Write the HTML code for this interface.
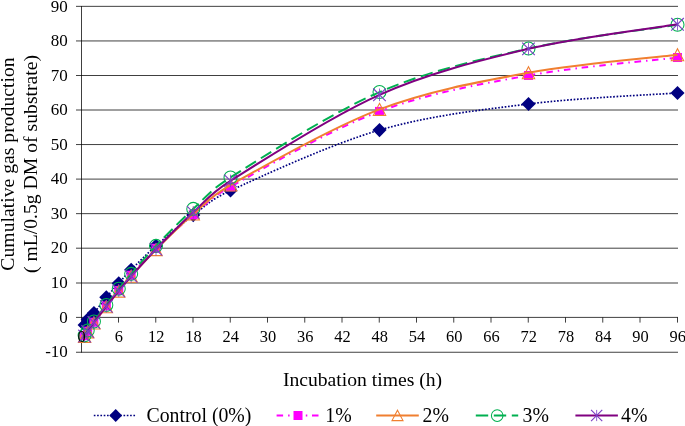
<!DOCTYPE html><html><head><meta charset="utf-8"><style>html,body{margin:0;padding:0;background:#fff;overflow:hidden}svg{display:block}</style></head><body><svg width="685" height="426" viewBox="0 0 685 426">
<rect width="685" height="426" fill="#fff"/>
<path d="M76 6.35H678 M76 40.95H678 M76 75.50H678 M76 110.00H678 M76 144.55H678 M76 179.10H678 M76 213.65H678 M76 248.20H678 M76 283.00H678 M76 317.40H678 M76 352.25H678" stroke="#000" stroke-width="0.75" fill="none"/>
<path d="M81.5 6.1V352.6" stroke="#000" stroke-width="0.75" fill="none"/>
<path d="M118.50 317.4V322.6 M155.75 317.4V322.6 M193.00 317.4V322.6 M230.25 317.4V322.6 M267.50 317.4V322.6 M304.75 317.4V322.6 M342.00 317.4V322.6 M379.25 317.4V322.6 M416.50 317.4V322.6 M453.75 317.4V322.6 M491.00 317.4V322.6 M528.25 317.4V322.6 M565.50 317.4V322.6 M602.75 317.4V322.6 M640.00 317.4V322.6 M677.50 317.4V322.6" stroke="#000" stroke-width="0.75" fill="none"/>
<path d="M84.60 325.00 C85.12 324.08 86.16 321.47 87.71 319.47 C89.26 317.47 91.03 316.44 93.92 313.01 C97.02 309.32 102.19 302.33 106.33 297.36 C110.47 292.38 114.61 287.79 118.75 283.19 C122.89 278.58 124.96 275.93 131.17 269.71 C137.38 263.49 145.65 254.96 156.00 245.86 C166.35 236.76 180.83 224.32 193.25 215.10 C205.67 205.89 210.21 199.83 230.50 190.56 C261.54 176.40 329.83 144.51 379.50 130.08 C429.17 115.66 478.83 110.18 528.50 103.99 C578.17 97.80 652.67 94.78 677.50 92.93" fill="none" stroke="#000080" stroke-width="1.7" stroke-dasharray="1.65 1.65"/>
<path d="M84.60 317.95L91.65 325.00L84.60 332.05L77.55 325.00Z" fill="#000080"/>
<path d="M87.71 312.42L94.76 319.47L87.71 326.52L80.66 319.47Z" fill="#000080"/>
<path d="M93.92 305.96L100.97 313.01L93.92 320.06L86.87 313.01Z" fill="#000080"/>
<path d="M106.33 290.31L113.38 297.36L106.33 304.41L99.28 297.36Z" fill="#000080"/>
<path d="M118.75 276.14L125.80 283.19L118.75 290.24L111.70 283.19Z" fill="#000080"/>
<path d="M131.17 262.66L138.22 269.71L131.17 276.76L124.12 269.71Z" fill="#000080"/>
<path d="M156.00 238.81L163.05 245.86L156.00 252.91L148.95 245.86Z" fill="#000080"/>
<path d="M193.25 208.05L200.30 215.10L193.25 222.15L186.20 215.10Z" fill="#000080"/>
<path d="M230.50 183.51L237.55 190.56L230.50 197.61L223.45 190.56Z" fill="#000080"/>
<path d="M379.50 123.03L386.55 130.08L379.50 137.13L372.45 130.08Z" fill="#000080"/>
<path d="M528.50 96.94L535.55 103.99L528.50 111.04L521.45 103.99Z" fill="#000080"/>
<path d="M677.50 85.88L684.55 92.93L677.50 99.98L670.45 92.93Z" fill="#000080"/>
<path d="M84.60 335.72 C85.12 334.97 86.16 333.47 87.71 331.22 C89.26 328.98 90.81 326.44 93.92 322.24 C97.02 318.03 102.19 311.29 106.33 306.00 C110.47 300.70 114.61 295.57 118.75 290.44 C122.89 285.32 124.96 282.26 131.17 275.24 C137.38 268.21 145.65 258.36 156.00 248.28 C166.35 238.20 180.83 225.01 193.25 214.76 C205.67 204.50 210.13 198.07 230.50 186.76 C261.54 169.54 329.83 129.97 379.50 111.42 C429.17 92.88 478.83 84.47 528.50 75.48 C578.17 66.49 652.67 60.50 677.50 57.51" fill="none" stroke="#FF00FF" stroke-width="2" stroke-dasharray="6.5 5 1.5 4.7"/>
<rect x="80.10" y="331.22" width="9.00" height="9.00" fill="#FF00FF"/>
<rect x="83.21" y="326.72" width="9.00" height="9.00" fill="#FF00FF"/>
<rect x="89.42" y="317.74" width="9.00" height="9.00" fill="#FF00FF"/>
<rect x="101.83" y="301.50" width="9.00" height="9.00" fill="#FF00FF"/>
<rect x="114.25" y="285.94" width="9.00" height="9.00" fill="#FF00FF"/>
<rect x="126.67" y="270.74" width="9.00" height="9.00" fill="#FF00FF"/>
<rect x="151.50" y="243.78" width="9.00" height="9.00" fill="#FF00FF"/>
<rect x="188.75" y="210.26" width="9.00" height="9.00" fill="#FF00FF"/>
<rect x="226.00" y="182.26" width="9.00" height="9.00" fill="#FF00FF"/>
<rect x="375.00" y="106.92" width="9.00" height="9.00" fill="#FF00FF"/>
<rect x="524.00" y="70.98" width="9.00" height="9.00" fill="#FF00FF"/>
<rect x="673.00" y="53.01" width="9.00" height="9.00" fill="#FF00FF"/>
<path d="M84.60 336.41 C85.12 335.66 86.16 334.16 87.71 331.92 C89.26 329.67 90.81 327.13 93.92 322.93 C97.02 318.72 102.19 311.99 106.33 306.69 C110.47 301.39 114.61 296.20 118.75 291.13 C122.89 286.07 124.96 283.19 131.17 276.27 C137.38 269.36 145.65 260.03 156.00 249.66 C166.35 239.29 180.83 224.84 193.25 214.07 C205.67 203.29 209.92 196.61 230.50 185.04 C261.54 167.58 329.83 128.07 379.50 109.35 C429.17 90.63 478.83 81.82 528.50 72.72 C578.17 63.61 652.67 57.74 677.50 54.74" fill="none" stroke="#F07F30" stroke-width="2" />
<path d="M84.60 330.41L90.80 342.41L78.40 342.41Z" fill="none" stroke="#F07F30" stroke-width="1.1"/>
<path d="M87.71 325.92L93.91 337.92L81.51 337.92Z" fill="none" stroke="#F07F30" stroke-width="1.1"/>
<path d="M93.92 316.93L100.12 328.93L87.72 328.93Z" fill="none" stroke="#F07F30" stroke-width="1.1"/>
<path d="M106.33 300.69L112.53 312.69L100.13 312.69Z" fill="none" stroke="#F07F30" stroke-width="1.1"/>
<path d="M118.75 285.13L124.95 297.13L112.55 297.13Z" fill="none" stroke="#F07F30" stroke-width="1.1"/>
<path d="M131.17 270.27L137.37 282.27L124.97 282.27Z" fill="none" stroke="#F07F30" stroke-width="1.1"/>
<path d="M156.00 243.66L162.20 255.66L149.80 255.66Z" fill="none" stroke="#F07F30" stroke-width="1.1"/>
<path d="M193.25 208.07L199.45 220.07L187.05 220.07Z" fill="none" stroke="#F07F30" stroke-width="1.1"/>
<path d="M230.50 179.04L236.70 191.04L224.30 191.04Z" fill="none" stroke="#F07F30" stroke-width="1.1"/>
<path d="M379.50 103.35L385.70 115.35L373.30 115.35Z" fill="none" stroke="#F07F30" stroke-width="1.1"/>
<path d="M528.50 66.72L534.70 78.72L522.30 78.72Z" fill="none" stroke="#F07F30" stroke-width="1.1"/>
<path d="M677.50 48.74L683.70 60.74L671.30 60.74Z" fill="none" stroke="#F07F30" stroke-width="1.1"/>
<path d="M84.60 335.37 C85.12 334.56 86.16 332.84 87.71 330.53 C89.26 328.23 90.81 325.81 93.92 321.55 C97.02 317.28 102.19 310.43 106.33 304.96 C110.47 299.49 114.61 293.90 118.75 288.72 C122.89 283.53 124.96 281.00 131.17 273.85 C137.38 266.71 145.65 256.69 156.00 245.86 C166.35 235.03 180.83 220.29 193.25 208.88 C205.67 197.48 209.85 190.38 230.50 177.43 C261.54 157.96 329.83 113.55 379.50 92.07 C429.17 70.58 478.83 59.76 528.50 48.52 C578.17 37.29 652.67 28.65 677.50 24.68" fill="none" stroke="#00B050" stroke-width="2" stroke-dasharray="12.4 5.6"/>
<circle cx="84.60" cy="335.37" r="6.50" fill="none" stroke="#00B050" stroke-width="1.05"/>
<circle cx="87.71" cy="330.53" r="6.50" fill="none" stroke="#00B050" stroke-width="1.05"/>
<circle cx="93.92" cy="321.55" r="6.50" fill="none" stroke="#00B050" stroke-width="1.05"/>
<circle cx="106.33" cy="304.96" r="6.50" fill="none" stroke="#00B050" stroke-width="1.05"/>
<circle cx="118.75" cy="288.72" r="6.50" fill="none" stroke="#00B050" stroke-width="1.05"/>
<circle cx="131.17" cy="273.85" r="6.50" fill="none" stroke="#00B050" stroke-width="1.05"/>
<circle cx="156.00" cy="245.86" r="6.50" fill="none" stroke="#00B050" stroke-width="1.05"/>
<circle cx="193.25" cy="208.88" r="6.50" fill="none" stroke="#00B050" stroke-width="1.05"/>
<circle cx="230.50" cy="177.43" r="6.50" fill="none" stroke="#00B050" stroke-width="1.05"/>
<circle cx="379.50" cy="92.07" r="6.50" fill="none" stroke="#00B050" stroke-width="1.05"/>
<circle cx="528.50" cy="48.52" r="6.50" fill="none" stroke="#00B050" stroke-width="1.05"/>
<circle cx="677.50" cy="24.68" r="6.50" fill="none" stroke="#00B050" stroke-width="1.05"/>
<path d="M84.60 336.06 C85.12 335.31 86.16 333.82 87.71 331.57 C89.26 329.32 90.81 326.79 93.92 322.58 C97.02 318.38 102.19 311.64 106.33 306.34 C110.47 301.04 114.61 295.80 118.75 290.79 C122.89 285.78 124.96 283.19 131.17 276.27 C137.38 269.36 145.65 259.97 156.00 249.32 C166.35 238.66 180.83 223.74 193.25 212.34 C205.67 200.93 209.88 193.89 230.50 180.89 C261.54 161.30 329.83 116.84 379.50 94.83 C429.17 72.83 478.83 60.62 528.50 48.87 C578.17 37.12 652.67 28.42 677.50 24.33" fill="none" stroke="#800080" stroke-width="2.05" />
<path d="M78.30 329.76L90.90 342.36M78.30 342.36L90.90 329.76" stroke="#7C40C4" stroke-width="1.15" fill="none"/><path d="M84.60 329.76L84.60 342.36" stroke="#7C40C4" stroke-width="0.9" fill="none" opacity="0.9"/>
<path d="M81.41 325.27L94.01 337.87M81.41 337.87L94.01 325.27" stroke="#7C40C4" stroke-width="1.15" fill="none"/><path d="M87.71 325.27L87.71 337.87" stroke="#7C40C4" stroke-width="0.9" fill="none" opacity="0.9"/>
<path d="M87.62 316.28L100.22 328.88M87.62 328.88L100.22 316.28" stroke="#7C40C4" stroke-width="1.15" fill="none"/><path d="M93.92 316.28L93.92 328.88" stroke="#7C40C4" stroke-width="0.9" fill="none" opacity="0.9"/>
<path d="M100.03 300.04L112.63 312.64M100.03 312.64L112.63 300.04" stroke="#7C40C4" stroke-width="1.15" fill="none"/><path d="M106.33 300.04L106.33 312.64" stroke="#7C40C4" stroke-width="0.9" fill="none" opacity="0.9"/>
<path d="M112.45 284.49L125.05 297.09M112.45 297.09L125.05 284.49" stroke="#7C40C4" stroke-width="1.15" fill="none"/><path d="M118.75 284.49L118.75 297.09" stroke="#7C40C4" stroke-width="0.9" fill="none" opacity="0.9"/>
<path d="M124.87 269.97L137.47 282.57M124.87 282.57L137.47 269.97" stroke="#7C40C4" stroke-width="1.15" fill="none"/><path d="M131.17 269.97L131.17 282.57" stroke="#7C40C4" stroke-width="0.9" fill="none" opacity="0.9"/>
<path d="M149.70 243.02L162.30 255.62M149.70 255.62L162.30 243.02" stroke="#7C40C4" stroke-width="1.15" fill="none"/><path d="M156.00 243.02L156.00 255.62" stroke="#7C40C4" stroke-width="0.9" fill="none" opacity="0.9"/>
<path d="M186.95 206.04L199.55 218.64M186.95 218.64L199.55 206.04" stroke="#7C40C4" stroke-width="1.15" fill="none"/><path d="M193.25 206.04L193.25 218.64" stroke="#7C40C4" stroke-width="0.9" fill="none" opacity="0.9"/>
<path d="M224.20 174.59L236.80 187.19M224.20 187.19L236.80 174.59" stroke="#7C40C4" stroke-width="1.15" fill="none"/><path d="M230.50 174.59L230.50 187.19" stroke="#7C40C4" stroke-width="0.9" fill="none" opacity="0.9"/>
<path d="M373.20 88.53L385.80 101.13M373.20 101.13L385.80 88.53" stroke="#7C40C4" stroke-width="1.15" fill="none"/><path d="M379.50 88.53L379.50 101.13" stroke="#7C40C4" stroke-width="0.9" fill="none" opacity="0.9"/>
<path d="M522.20 42.57L534.80 55.17M522.20 55.17L534.80 42.57" stroke="#7C40C4" stroke-width="1.15" fill="none"/><path d="M528.50 42.57L528.50 55.17" stroke="#7C40C4" stroke-width="0.9" fill="none" opacity="0.9"/>
<path d="M671.20 18.03L683.80 30.63M671.20 30.63L683.80 18.03" stroke="#7C40C4" stroke-width="1.15" fill="none"/><path d="M677.50 18.03L677.50 30.63" stroke="#7C40C4" stroke-width="0.9" fill="none" opacity="0.9"/>
<g font-family="Liberation Serif, Times New Roman, serif" font-size="17" fill="#000"><text transform="translate(67.8 11.50) scale(1 1.045)" text-anchor="end">90</text><text transform="translate(67.8 46.10) scale(1 1.045)" text-anchor="end">80</text><text transform="translate(67.8 80.65) scale(1 1.045)" text-anchor="end">70</text><text transform="translate(67.8 115.15) scale(1 1.045)" text-anchor="end">60</text><text transform="translate(67.8 149.70) scale(1 1.045)" text-anchor="end">50</text><text transform="translate(67.8 184.25) scale(1 1.045)" text-anchor="end">40</text><text transform="translate(67.8 218.80) scale(1 1.045)" text-anchor="end">30</text><text transform="translate(67.8 253.35) scale(1 1.045)" text-anchor="end">20</text><text transform="translate(67.8 288.15) scale(1 1.045)" text-anchor="end">10</text><text transform="translate(67.8 322.55) scale(1 1.045)" text-anchor="end">0</text><text transform="translate(67.8 357.40) scale(1 1.045)" text-anchor="end">-10</text><text x="81.70" y="342.1" font-size="16.4" text-anchor="middle">0</text><text x="118.95" y="342.1" font-size="16.4" text-anchor="middle">6</text><text x="156.20" y="342.1" font-size="16.4" text-anchor="middle">12</text><text x="193.45" y="342.1" font-size="16.4" text-anchor="middle">18</text><text x="230.70" y="342.1" font-size="16.4" text-anchor="middle">24</text><text x="267.95" y="342.1" font-size="16.4" text-anchor="middle">30</text><text x="305.20" y="342.1" font-size="16.4" text-anchor="middle">36</text><text x="342.45" y="342.1" font-size="16.4" text-anchor="middle">42</text><text x="379.70" y="342.1" font-size="16.4" text-anchor="middle">48</text><text x="416.95" y="342.1" font-size="16.4" text-anchor="middle">54</text><text x="454.20" y="342.1" font-size="16.4" text-anchor="middle">60</text><text x="491.45" y="342.1" font-size="16.4" text-anchor="middle">66</text><text x="528.70" y="342.1" font-size="16.4" text-anchor="middle">72</text><text x="565.95" y="342.1" font-size="16.4" text-anchor="middle">78</text><text x="603.20" y="342.1" font-size="16.4" text-anchor="middle">84</text><text x="640.45" y="342.1" font-size="16.4" text-anchor="middle">90</text><text x="677.70" y="342.1" font-size="16.4" text-anchor="middle">96</text></g>
<g font-family="Liberation Serif, Times New Roman, serif" font-size="19.7" fill="#000">
<text x="282.9" y="385.7" font-size="19.65">Incubation times (h)</text>
<text transform="translate(14 164) rotate(-90)" text-anchor="middle">Cumulative gas production</text>
<text transform="translate(37 164) rotate(-90)" text-anchor="middle">( mL/0.5g DM of substrate)</text>
<path d="M93.8 415.5H135.6" fill="none" stroke="#000080" stroke-width="1.7" stroke-dasharray="1.65 1.65"/>
<path d="M115.70 409.10L122.10 415.50L115.70 421.90L109.30 415.50Z" fill="#000080"/>
<text transform="translate(146.5 422.2) scale(1.005 1.04)">Control (0%)</text>
<path d="M276.6 415.5H319.4" fill="none" stroke="#FF00FF" stroke-width="2" stroke-dasharray="6.5 5 1.5 4.7"/>
<rect x="293.50" y="411.00" width="9.00" height="9.00" fill="#FF00FF"/>
<text transform="translate(325.3 422.2) scale(1.005 1.04)">1%</text>
<path d="M376.2 415.5H418.8" fill="none" stroke="#F07F30" stroke-width="2" />
<path d="M397.50 410.20L403.00 420.60L392.00 420.60Z" fill="none" stroke="#F07F30" stroke-width="1.1"/>
<text transform="translate(422.5 422.2) scale(1.005 1.04)">2%</text>
<path d="M475.8 415.5H518.2" fill="none" stroke="#00B050" stroke-width="2" stroke-dasharray="12.4 5.6"/>
<circle cx="497.20" cy="415.60" r="5.80" fill="none" stroke="#00B050" stroke-width="1.05"/>
<text transform="translate(522.6 422.2) scale(1.005 1.04)">3%</text>
<path d="M575.4 415.5H617.9" fill="none" stroke="#800080" stroke-width="2.05" />
<path d="M591.05 409.90L602.25 421.10M591.05 421.10L602.25 409.90" stroke="#7C40C4" stroke-width="1.15" fill="none"/><path d="M596.65 409.90L596.65 421.10" stroke="#7C40C4" stroke-width="0.9" fill="none" opacity="0.9"/>
<text transform="translate(621.0 422.2) scale(1.005 1.04)">4%</text>
</g>
</svg></body></html>
